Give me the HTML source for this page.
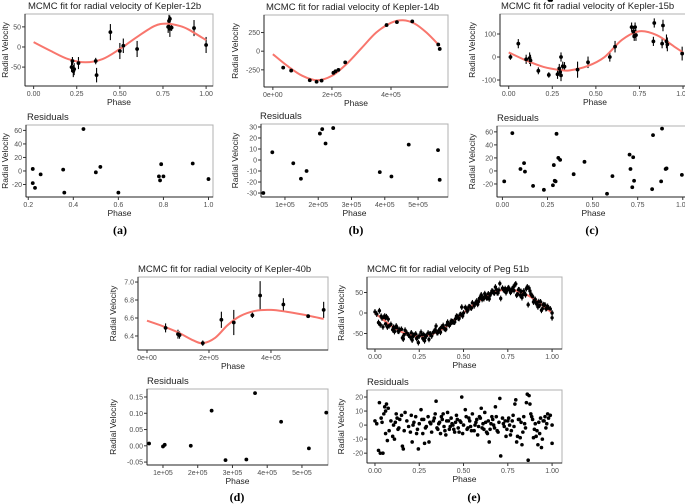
<!DOCTYPE html>
<html><head><meta charset="utf-8"><style>
html,body{margin:0;padding:0;background:#fff;width:685px;height:504px;overflow:hidden}
svg{display:block;font-family:"Liberation Sans",sans-serif}
</style></head><body>
<svg id="fig" width="685" height="504" viewBox="0 0 685 504"></svg>
<script>
// ---- Panel (a) Kepler-12b ----
const k12Phase=[0.22,0.225,0.23,0.235,0.26,0.36,0.365,0.445,0.5,0.52,0.6,0.78,0.785,0.79,0.79,0.8,0.93,1.0];
const k12Rv=[-50,-35,-60,-55,-40,-35,-70,37,-10,3,-5,50,65,70,45,48,47,5];
const k12Err=[12,10,15,15,15,8,18,20,20,18,20,15,15,8,20,8,20,20];
const k12FitX=[0,0.1,0.2,0.3,0.4,0.5,0.6,0.7,0.77,0.85,0.9,1.0];
const k12FitY=[12,-10,-30,-38,-30,-5,25,52,58,52,43,17];
const k12ResX=[0.22,0.22,0.23,0.255,0.355,0.36,0.445,0.5,0.52,0.6,0.78,0.785,0.79,0.8,0.93,1.0];
const k12Res=[3,-18,-25,-5,2,-32,62,-2,6,-32,-8,-14,10,-8,11,-12];
const phaseTicks=[0,0.25,0.5,0.75,1];
const phaseLabels=["0.00","0.25","0.50","0.75","1.00"];
const k12YTicks=[-50,0,50];
const k12ResXTicks=[0.2,0.4,0.6,0.8,1.0];
const k12ResXLabels=["0.2","0.4","0.6","0.8","1.0"];
const k12ResYTicks=[-20,0,20,40,60];
// ---- Panel (b) Kepler-14b (x in units of 1e5) ----
const k14X=[0.35,0.62,1.25,1.48,1.65,2.05,2.12,2.22,2.45,3.85,4.2,4.72,5.6,5.65];
const k14Rv=[-220,-260,-390,-410,-395,-290,-270,-250,-150,350,390,400,90,30];
const k14FitX=[0,0.5,1.0,1.5,2.0,2.5,3.0,3.5,4.0,4.4,4.8,5.2,5.65];
const k14FitY=[-40,-200,-330,-390,-330,-170,40,250,380,415,370,250,70];
const k14Res=[-30,7,-3,-17,-10,24,28,15,29,-11,-15,14,9,-18];
const k14XTicks=[0,2,4];
const k14XLabels=["0e+00","2e+05","4e+05"];
const k14YTicks=[-250,0,250];
const k14ResXTicks=[1,2,3,4,5];
const k14ResXLabels=["1e+05","2e+05","3e+05","4e+05","5e+05"];
const k14ResYTicks=[-30,-20,-10,0,10,20,30];
// ---- Panel (c) Kepler-15b ----
const k15Phase=[0.01,0.055,0.1,0.12,0.125,0.17,0.23,0.28,0.29,0.295,0.3,0.3,0.31,0.32,0.395,0.455,0.58,0.61,0.705,0.715,0.72,0.725,0.73,0.83,0.835,0.88,0.885,0.905,0.91,0.995];
const k15Rv=[0,58,-10,-5,-15,-60,-78,-75,-50,-65,-80,0,-40,-42,-55,-23,0,45,130,110,90,130,95,68,148,58,137,68,55,15];
const k15Err=[12,20,20,25,25,15,12,20,20,20,25,20,20,20,35,25,20,25,20,25,20,20,25,20,20,20,25,30,30,30];
const k15FitX=[0,0.1,0.2,0.3,0.35,0.45,0.55,0.65,0.75,0.85,0.95,1.0];
const k15FitY=[20,-15,-43,-57,-58,-40,0,75,112,95,45,20];
const k15ResX=[0.01,0.055,0.1,0.12,0.125,0.17,0.23,0.28,0.285,0.29,0.3,0.31,0.32,0.295,0.395,0.455,0.58,0.61,0.705,0.71,0.72,0.725,0.73,0.83,0.835,0.88,0.885,0.905,0.91,0.995];
const k15Res=[-16,58,3,12,-1,-23,-29,-22,9,-15,57,20,17,-16,-5,14,-35,-8,25,3,-25,21,-15,-28,55,-16,65,3,4,-6];
const k15YTicks=[-100,0,100];
const k15ResYTicks=[-20,0,20,40,60];
// ---- Panel (d) Kepler-40b (x in 1e5) ----
const k40X=[0.6,1.0,1.05,1.8,2.4,2.8,3.4,3.65,4.4,5.2,5.7];
const k40Rv=[6.49,6.42,6.41,6.32,6.58,6.55,6.63,6.85,6.75,6.62,6.69];
const k40Err=[0.05,0.05,0.04,0.03,0.09,0.14,0.03,0.16,0.07,0.02,0.09];
const k40FitX=[0,0.5,1.0,1.5,1.8,2.2,2.6,3.0,3.5,4.0,4.5,5.0,5.7];
const k40FitY=[6.57,6.51,6.44,6.35,6.32,6.38,6.52,6.62,6.68,6.69,6.67,6.64,6.59];
const k40Res=[0.007,-0.002,0.003,0.0,0.108,-0.044,-0.042,0.162,0.074,-0.008,0.102];
const k40YTicks=[6.4,6.6,6.8,7.0];
const k40YLabels=["6.4","6.6","6.8","7.0"];
const k40ResYTicks=[-0.05,0,0.05,0.1,0.15];
const k40ResYLabels=["-0.05","0.00","0.05","0.10","0.15"];
// ---- Panel (e) Peg 51b ----
const pegAmp=[57];
const pegPhase=[0,0.01,0.02,0.025,0.03,0.04,0.045,0.05,0.055,0.06,0.06,0.065,0.07,0.075,0.08,0.09,0.1,0.105,0.11,0.12,0.125,0.13,0.14,0.15,0.155,0.16,0.17,0.18,0.19,0.2,0.205,0.21,0.22,0.23,0.24,0.245,0.25,0.26,0.27,0.275,0.28,0.29,0.3,0.305,0.31,0.32,0.33,0.34,0.345,0.35,0.36,0.37,0.38,0.385,0.39,0.4,0.405,0.41,0.42,0.43,0.44,0.45,0.455,0.46,0.47,0.48,0.49,0.495,0.5,0.51,0.52,0.53,0.54,0.55,0.56,0.57,0.58,0.59,0.6,0.605,0.61,0.62,0.63,0.64,0.645,0.65,0.66,0.67,0.68,0.69,0.7,0.705,0.71,0.72,0.73,0.74,0.75,0.76,0.77,0.78,0.79,0.795,0.8,0.805,0.81,0.82,0.83,0.84,0.845,0.85,0.855,0.86,0.865,0.87,0.875,0.88,0.89,0.9,0.91,0.92,0.93,0.94,0.95,0.96,0.97,0.975,0.98,0.99,1.0,1.0,0.035,0.115,0.135,0.165,0.215,0.235,0.265,0.285,0.315,0.335,0.355,0.365,0.375,0.395,0.415,0.425,0.435,0.445,0.465,0.475,0.485,0.515,0.525,0.535,0.545,0.565,0.575,0.585,0.595,0.615,0.625,0.635,0.655,0.665,0.675,0.685,0.695,0.725,0.735,0.745,0.755,0.765,0.775,0.785,0.815,0.825,0.835,0.885,0.895,0.905,0.915,0.925,0.935,0.945,0.955,0.965,0.985,0.995];
const pegRes=[3,1,-18,16,-20,2,-20,8,13,-6,10,15,-11,12,-4,3,-8,0,-10,8,5,-3,4,7,-15,-17,9,3,-1,-5,7,-12,2,6,-3,-17,1,11,-6,4,-13,-1,6,-12,2,-5,3,8,17,-2,1,-6,4,8,-1,-7,3,9,-3,5,0,-5,2,7,-2,3,20,-6,0,11,-3,5,-1,8,-4,2,-7,6,12,-2,1,9,-5,3,-12,-3,6,0,13,-4,2,19,-22,5,-1,-8,3,0,-4,7,15,18,-12,-8,4,-9,-14,6,1,-2,16,22,-25,21,15,8,4,-3,-8,-14,-6,-16,3,6,1,8,5,7,-13,0,5,2,-2,-4,0,-6,4,-2,1,5,-3,2,6,-4,3,-1,1,-3,4,-5,2,6,-2,3,-4,0,4,-1,5,-3,2,-6,1,4,-2,6,-5,1,3,-3,5,-7,3,-1,4,2,-5,6,-9,1,-4,2,5,-10,3,-2];
const pegYTicks=[-50,0,50];
const pegResYTicks=[-20,-10,0,10,20];

const NS="http://www.w3.org/2000/svg";
const svg=document.getElementById('fig');
function mk(tag,attrs,parent){const e=document.createElementNS(NS,tag);for(const k in attrs)e.setAttribute(k,attrs[k]);(parent||svg).appendChild(e);return e;}
function txt(s,x,y,size,anchor,parent,extra){const t=mk('text',Object.assign({x:x,y:y,'font-size':size,'text-anchor':anchor||'start',fill:'#222'},extra||{}),parent);t.textContent=s;return t;}
function smooth(pts){let d='M'+pts[0][0]+','+pts[0][1];for(let i=0;i<pts.length-1;i++){const p0=pts[Math.max(0,i-1)],p1=pts[i],p2=pts[i+1],p3=pts[Math.min(pts.length-1,i+2)];const c1=[p1[0]+(p2[0]-p0[0])/6,p1[1]+(p2[1]-p0[1])/6],c2=[p2[0]-(p3[0]-p1[0])/6,p2[1]-(p3[1]-p1[1])/6];d+=' C'+c1[0]+','+c1[1]+' '+c2[0]+','+c2[1]+' '+p2[0]+','+p2[1];}return d;}

function panel(o,name){
  const g=mk('g',{});
  
  
  const b=o.box;
  const sx=v=>b.l+(v-o.xd[0])/(o.xd[1]-o.xd[0])*(b.r-b.l);
  const sy=v=>b.b-(v-o.yd[0])/(o.yd[1]-o.yd[0])*(b.b-b.t);
  const bg=mk('rect',{x:b.l,y:b.t,width:b.r-b.l,height:b.b-b.t,fill:'#fff',stroke:'#b0b0b0','stroke-width':1},g);
  
  
  mk('line',{x1:b.l,y1:b.t,x2:b.l,y2:b.b,stroke:'#222','stroke-width':1},g);
  mk('line',{x1:b.l,y1:b.b,x2:b.r,y2:b.b,stroke:'#222','stroke-width':1},g);
  o.xt.forEach((v,i)=>{const x=sx(v);mk('line',{x1:x,y1:b.b,x2:x,y2:b.b+3,stroke:'#333'},g);
    const t=txt(o.xl[i],x,b.b+10,7,'middle',g,{fill:'#4d4d4d'});
    
    });
  o.yt.forEach((v,i)=>{const y=sy(v);mk('line',{x1:b.l-3,y1:y,x2:b.l,y2:y,stroke:'#333'},g);
    const t=txt(o.yl[i],b.l-4,y+2.5,7,'end',g,{fill:'#4d4d4d'});
    
    });
  const tt=txt(o.title,o.tx,b.t-5,9.5,'start',g);
  
  
  const xa=txt('Phase',(b.l+b.r)/2,b.b+19,8.5,'middle',g);
  
  
  const yc=(b.t+b.b)/2;
  const ya=txt('Radial Velocity',o.yx,yc,8.5,'middle',g,{transform:'rotate(-90 '+o.yx+' '+yc+')'});
  
  
  if(o.err){o.x.forEach((v,i)=>{const l=mk('line',{x1:sx(v),x2:sx(v),y1:sy(o.y[i]-o.err[i]),y2:sy(o.y[i]+o.err[i]),stroke:'#000','stroke-width':1.1},g);
    
    });}
  if(o.fit){const pts=o.fit[0].map((v,i)=>[sx(v),sy(o.fit[1][i])]);
    const p=mk('path',{d:smooth(pts),fill:'none',stroke:'#f8766d','stroke-width':2},g);
    
    }
  o.x.forEach((v,i)=>{const c=mk('circle',{cx:sx(v),cy:sy(o.y[i]),r:o.r||1.9,fill:'#000'},g);
    
    });
  return {sx,sy,g};
}
const fmt=a=>a.map(v=>String(v));
// (a)
panel({box:{l:25,t:14,r:213,b:86},xd:[-0.05,1.04],yd:[-97,82],xt:phaseTicks,xl:phaseLabels,yt:k12YTicks,yl:fmt(k12YTicks),title:'MCMC fit for radial velocity of Kepler-12b',tx:28,yx:8,x:k12Phase,y:k12Rv,err:k12Err,fit:[k12FitX,k12FitY]},'kepler12b-fit');
panel({box:{l:26,t:125,r:213,b:197},xd:[0.19,1.02],yd:[-38.5,68],xt:k12ResXTicks,xl:k12ResXLabels,yt:k12ResYTicks,yl:fmt(k12ResYTicks),title:'Residuals',tx:27,yx:8,x:k12ResX,y:k12Res},'kepler12b-residuals');
// (b)
panel({box:{l:264,t:15,r:448,b:87},xd:[-0.3,5.93],yd:[-480,485],xt:k14XTicks,xl:k14XLabels,yt:k14YTicks,yl:fmt(k14YTicks),title:'MCMC fit for radial velocity of Kepler-14b',tx:266,yx:238,x:k14X,y:k14Rv,err:k14Rv.map(()=>15),fit:[k14FitX,k14FitY]},'kepler14b-fit');
panel({box:{l:261,t:124,r:448,b:197},xd:[0.28,5.9],yd:[-33.6,32.7],xt:k14ResXTicks,xl:k14ResXLabels,yt:k14ResYTicks,yl:fmt(k14ResYTicks),title:'Residuals',tx:260,yx:238,x:k14X,y:k14Res},'kepler14b-residuals');
// (c)
panel({box:{l:500,t:14,r:690,b:86},xd:[-0.05,1.04],yd:[-126,187],xt:phaseTicks,xl:phaseLabels,yt:k15YTicks,yl:fmt(k15YTicks),title:'MCMC fit for radial velocity of Kepler-15b',tx:501,yx:475,x:k15Phase,y:k15Rv,err:k15Err,fit:[k15FitX,k15FitY]},'kepler15b-fit');
panel({box:{l:497,t:126,r:690,b:197},xd:[-0.03,1.04],yd:[-40,69],xt:phaseTicks,xl:phaseLabels,yt:k15ResYTicks,yl:fmt(k15ResYTicks),title:'Residuals',tx:497,yx:475,x:k15ResX,y:k15Res},'kepler15b-residuals');
// (d)
panel({box:{l:138,t:277,r:328,b:350},xd:[-0.29,5.84],yd:[6.244,7.056],xt:k14XTicks,xl:k14XLabels,yt:k40YTicks,yl:k40YLabels,title:'MCMC fit for radial velocity of Kepler-40b',tx:138,yx:116,x:k40X,y:k40Rv,err:k40Err,fit:[k40FitX,k40FitY]},'kepler40b-fit');
panel({box:{l:147,t:389,r:328,b:465},xd:[0.54,5.75],yd:[-0.059,0.1746],xt:k14ResXTicks,xl:k14ResXLabels,yt:k40ResYTicks,yl:k40ResYLabels,title:'Residuals',tx:147,yx:116,x:k40X,y:k40Res},'kepler40b-residuals');
// (e)
const pegFitX=[],pegFitY=[];
for(let i=0;i<=40;i++){pegFitX.push(i/40);pegFitY.push(-pegAmp[0]*Math.sin(2*Math.PI*i/40));}
const pegRv=pegPhase.map((p,i)=>-pegAmp[0]*Math.sin(2*Math.PI*p)+pegRes[i]*0.9);
panel({box:{l:367,t:277,r:562,b:349},xd:[-0.045,1.056],yd:[-87.8,87.8],xt:phaseTicks,xl:phaseLabels,yt:pegYTicks,yl:fmt(pegYTicks),title:'MCMC fit for radial velocity of Peg 51b',tx:367,yx:344,x:pegPhase,y:pegRv,err:pegRv.map(()=>7),fit:[pegFitX,pegFitY],r:1.7},'peg51b-fit');
panel({box:{l:367,t:390,r:562,b:463},xd:[-0.045,1.056],yd:[-27,25],xt:phaseTicks,xl:phaseLabels,yt:pegResYTicks,yl:fmt(pegResYTicks),title:'Residuals',tx:367,yx:344,x:pegPhase,y:pegRes,r:1.8},'peg51b-residuals');
// sub-figure labels
[['(a)',120,234],['(b)',356,234],['(c)',592,234],['(d)',237,501],['(e)',474,501]].forEach(l=>{
  const t=txt(l[0],l[1],l[2],12,'middle',svg,{'font-weight':'bold','font-family':'Liberation Serif, serif',fill:'#000'});
  
  
});
</script>
</body></html>
